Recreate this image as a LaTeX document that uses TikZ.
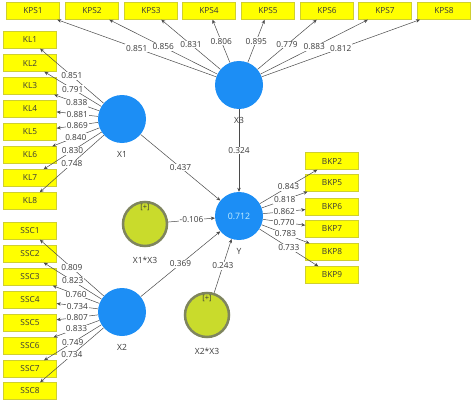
\documentclass[tikz,border=0pt]{standalone}
\usepackage{fontspec}
\setmainfont{Open Sans}
\usetikzlibrary{arrows.meta}
\definecolor{pbblue}{HTML}{1C8EF5}
\definecolor{pbgreen}{HTML}{C9DB2C}
\definecolor{pbrim}{HTML}{7F855E}
\definecolor{pbyellow}{HTML}{FFFF00}
\definecolor{pbedge}{HTML}{CFCF30}
\definecolor{pbline}{HTML}{4A4A4A}
\definecolor{pbtext}{HTML}{3A3A3A}
\definecolor{pbval}{HTML}{C4EEFF}
\tikzset{
  ind/.style  = {draw=pbedge, fill=pbyellow, minimum width=53pt, minimum height=17pt,
                 inner sep=0pt, font=\fontsize{8.3}{9}\selectfont, text=pbtext},
  lv/.style   = {circle, fill=pbblue, minimum size=48pt, inner sep=0pt,
                 font=\fontsize{8.8}{10}\selectfont, text=pbval},
  mod/.style  = {circle, draw=pbrim, line width=2.5pt, fill=pbgreen, minimum size=44pt,
                 inner sep=0pt},
  nm/.style   = {font=\fontsize{8.5}{9}\selectfont, text=pbtext, inner sep=1pt},
  plus/.style = {anchor=north, yshift=-2pt, font=\fontsize{7.5}{8}\selectfont,
                 text=pbtext, inner sep=1pt},
  wt/.style   = {fill=white, inner sep=0.8pt, font=\fontsize{8.3}{9}\selectfont, text=pbtext},
  wire/.style = {->, draw=pbline, line width=0.5pt},
}

\begin{document}
\begin{tikzpicture}[x=1pt, y=-1pt, >={Stealth[length=4pt, width=3.5pt]}]
  \useasboundingbox (0,0) rectangle (474,404);

  % ===== latent variables ===============================================
  \node[lv, label={[nm, label distance=7pt]below:X1}] (x1)  at (122,119) {};
  \node[lv, label={[nm, label distance=7pt]below:X2}] (x2)  at (122,312) {};
  \node[lv, label={[nm, label distance=7pt]below:X3}] (x3)  at (239, 85) {};
  \node[lv, label={[nm, label distance=7pt]below:Y}]  (y)   at (239,216) {0.712};
  \node[mod, label={[nm, label distance=9pt]below:X1*X3},
             label={[plus]90:{[+]}}]                  (x13) at (145,224) {};
  \node[mod, label={[nm, label distance=9pt]below:X2*X3},
             label={[plus]90:{[+]}}]                  (x23) at (207,315) {};

  % ===== indicators of X3 ===============================================
  \node[ind] (kps1) at ( 33,11) {KPS1};
  \node[ind] (kps2) at ( 92,11) {KPS2};
  \node[ind] (kps3) at (151,11) {KPS3};
  \node[ind] (kps4) at (209,11) {KPS4};
  \node[ind] (kps5) at (268,11) {KPS5};
  \node[ind] (kps6) at (327,11) {KPS6};
  \node[ind] (kps7) at (385,11) {KPS7};
  \node[ind] (kps8) at (444,11) {KPS8};

  % ===== indicators of X1 ===============================================
  \node[ind] (kl1) at (30, 40) {KL1};
  \node[ind] (kl2) at (30, 63) {KL2};
  \node[ind] (kl3) at (30, 86) {KL3};
  \node[ind] (kl4) at (30,109) {KL4};
  \node[ind] (kl5) at (30,132) {KL5};
  \node[ind] (kl6) at (30,155) {KL6};
  \node[ind] (kl7) at (30,178) {KL7};
  \node[ind] (kl8) at (30,201) {KL8};

  % ===== indicators of X2 ===============================================
  \node[ind] (ssc1) at (30,231) {SSC1};
  \node[ind] (ssc2) at (30,254) {SSC2};
  \node[ind] (ssc3) at (30,277) {SSC3};
  \node[ind] (ssc4) at (30,300) {SSC4};
  \node[ind] (ssc5) at (30,323) {SSC5};
  \node[ind] (ssc6) at (30,346) {SSC6};
  \node[ind] (ssc7) at (30,369) {SSC7};
  \node[ind] (ssc8) at (30,391) {SSC8};

  % ===== indicators of Y ================================================
  \node[ind] (bkp2) at (332,161) {BKP2};
  \node[ind] (bkp5) at (332,183) {BKP5};
  \node[ind] (bkp6) at (332,207) {BKP6};
  \node[ind] (bkp7) at (332,229) {BKP7};
  \node[ind] (bkp8) at (332,252) {BKP8};
  \node[ind] (bkp9) at (332,275) {BKP9};

  % ===== outer loadings =================================================
  \draw[wire] (x3) -- node[wt] {0.851} (kps1);
  \draw[wire] (x3) -- node[wt] {0.856} (kps2);
  \draw[wire] (x3) -- node[wt] {0.831} (kps3);
  \draw[wire] (x3) -- node[wt] {0.806} (kps4);
  \draw[wire] (x3) -- node[wt] {0.895} (kps5);
  \draw[wire] (x3) -- node[wt] {0.779} (kps6);
  \draw[wire] (x3) -- node[wt] {0.883} (kps7);
  \draw[wire] (x3) -- node[wt] {0.812} (kps8);

  \draw[wire] (x1) -- node[wt] {0.851} (kl1);
  \draw[wire] (x1) -- node[wt] {0.791} (kl2);
  \draw[wire] (x1) -- node[wt] {0.838} (kl3);
  \draw[wire] (x1) -- node[wt] {0.881} (kl4);
  \draw[wire] (x1) -- node[wt] {0.869} (kl5);
  \draw[wire] (x1) -- node[wt] {0.840} (kl6);
  \draw[wire] (x1) -- node[wt] {0.830} (kl7);
  \draw[wire] (x1) -- node[wt] {0.748} (kl8);

  \draw[wire] (x2) -- node[wt] {0.809} (ssc1);
  \draw[wire] (x2) -- node[wt] {0.823} (ssc2);
  \draw[wire] (x2) -- node[wt] {0.760} (ssc3);
  \draw[wire] (x2) -- node[wt] {0.734} (ssc4);
  \draw[wire] (x2) -- node[wt] {0.807} (ssc5);
  \draw[wire] (x2) -- node[wt] {0.833} (ssc6);
  \draw[wire] (x2) -- node[wt] {0.749} (ssc7);
  \draw[wire] (x2) -- node[wt] {0.734} (ssc8);

  \draw[wire] (y) -- node[wt] {0.843} (bkp2);
  \draw[wire] (y) -- node[wt] {0.818} (bkp5);
  \draw[wire] (y) -- node[wt] {0.862} (bkp6);
  \draw[wire] (y) -- node[wt] {0.770} (bkp7);
  \draw[wire] (y) -- node[wt] {0.783} (bkp8);
  \draw[wire] (y) -- node[wt] {0.733} (bkp9);

  % ===== path coefficients ==============================================
  \draw[wire] (x1)  -- node[wt] {0.437}  (y);
  \draw[wire] (x3)  -- node[wt] {0.324}  (y);
  \draw[wire] (x13) -- node[wt] {-0.106} (y);
  \draw[wire] (x2)  -- node[wt] {0.369}  (y);
  \draw[wire] (x23) -- node[wt] {0.243}  (y);

\end{tikzpicture}
\end{document}
